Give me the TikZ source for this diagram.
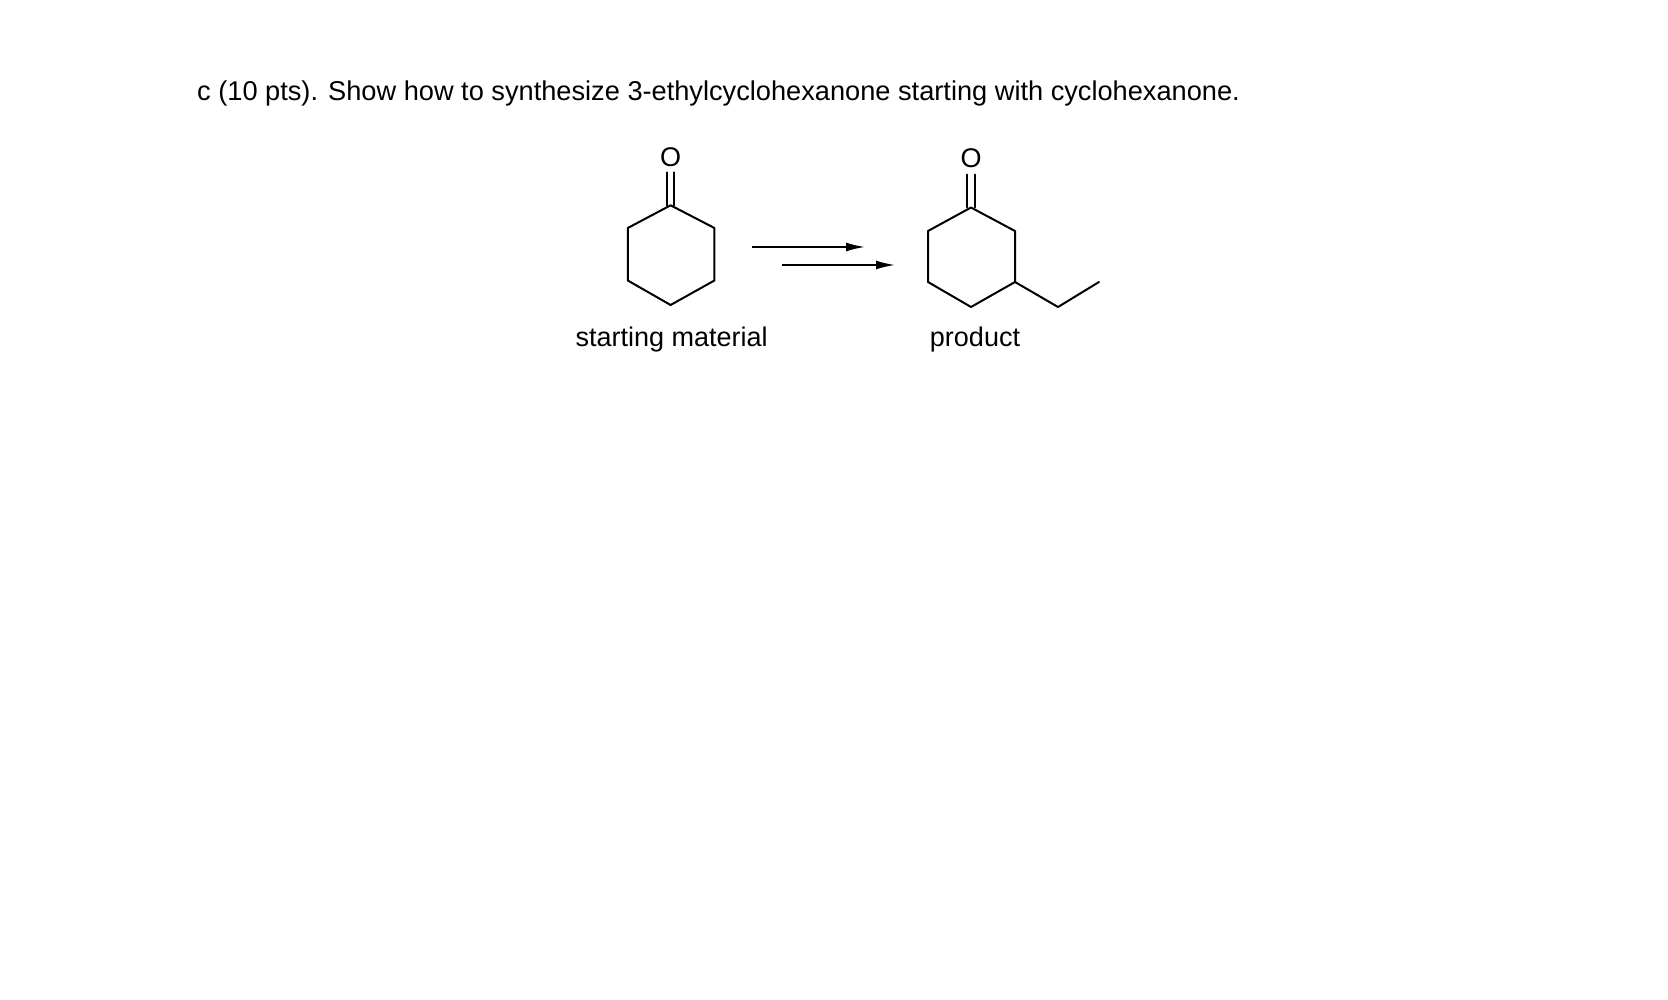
\documentclass[tikz,border=0pt]{standalone}
\usepackage{fontspec}
\setmainfont{Liberation Sans}
\usetikzlibrary{arrows.meta}
\begin{document}
\begin{tikzpicture}[x=1pt,y=-1pt,
  bond/.style={line width=2pt,line cap=round,line join=round},
  rxn/.style={line width=2.6pt,-{Latex[length=20pt,width=9pt]}},
  lbl/.style={inner sep=0pt,font=\fontsize{27}{30}\selectfont}]
\useasboundingbox (0,0) rectangle (1668,1000);
\node[anchor=west,inner sep=0pt,font=\fontsize{27.2}{32}\selectfont] (title) at (197,93) {c (10 pts). Show how to synthesize 3-ethylcyclohexanone starting with cyclohexanone.};
% starting material
\coordinate (a1) at (670.6,205.3);
\coordinate (a2) at (714.4,228);
\coordinate (a3) at (714.4,280.5);
\coordinate (a4) at (670.6,305);
\coordinate (a5) at (627.8,280.5);
\coordinate (a6) at (627.8,228);
\draw[bond] (a1)--(a2)--(a3)--(a4)--(a5)--(a6)--cycle;
\node[lbl] (o1) at (670.6,157) {O};
\draw[bond] ([xshift=-3.8pt]a1) -- ++(0,-33);
\draw[bond] ([xshift=3.8pt]a1) -- ++(0,-33);
\node[lbl] (sm) at (671.6,340) {starting material};
% product
\coordinate (b1) at (971,207.5);
\coordinate (b2) at (1015,231);
\coordinate (b3) at (1015,282);
\coordinate (b4) at (971,307);
\coordinate (b5) at (928,282);
\coordinate (b6) at (928,231);
\coordinate (e1) at (1058,307);
\coordinate (e2) at (1099,282);
\draw[bond] (b1)--(b2)--(b3)--(b4)--(b5)--(b6)--cycle;
\draw[bond] (b3)--(e1)--(e2);
\node[lbl] (o2) at (971,158) {O};
\draw[bond] ([xshift=-3.8pt]b1) -- ++(0,-33);
\draw[bond] ([xshift=3.8pt]b1) -- ++(0,-33);
\node[lbl] (pr) at (975,340) {product};
% arrows
\coordinate (r1s) at (752,247);
\coordinate (r1e) at (866,247);
\coordinate (r2s) at (782,265);
\coordinate (r2e) at (896,265);
\draw[rxn] (r1s) -- (r1e);
\draw[rxn] (r2s) -- (r2e);
\end{tikzpicture}
\end{document}
